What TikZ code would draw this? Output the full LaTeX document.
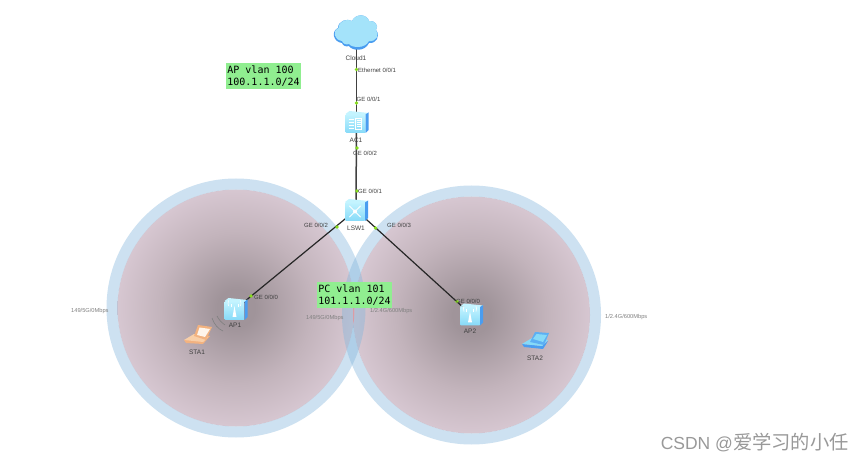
\documentclass[tikz,border=0pt]{standalone}
\usepackage{fontspec}
\setmainfont{Liberation Sans}
\newfontfamily\monof{DejaVu Sans Mono}
\newfontfamily\cjkf{Noto Sans CJK SC}
\usetikzlibrary{calc}
\definecolor{ringblue}{HTML}{82B6DC}
\definecolor{pinkedge}{HTML}{DDCDD8}
\definecolor{pinkmid}{HTML}{C3B4BC}
\definecolor{pinkcore}{HTML}{A0949A}
\definecolor{notegreen}{HTML}{90EE90}
\definecolor{portgreen}{HTML}{86DC1E}
\definecolor{labelgrey}{HTML}{404040}
\definecolor{devlight}{HTML}{C4F4FF}
\definecolor{devmid}{HTML}{86DAF8}
\definecolor{devside}{HTML}{4A9DF0}
\definecolor{lapA}{HTML}{F2B280}
\definecolor{lapB}{HTML}{F8CFA8}
\pgfdeclareradialshading{wlan}{\pgfpointorigin}{color(0bp)=(pinkcore); color(4bp)=(pinkcore); color(16bp)=(pinkmid); color(28bp)=(pinkedge); color(50bp)=(pinkedge)}
\tikzset{
  plab/.style={font=\fontsize{6}{7}\selectfont,text=labelgrey,inner sep=0pt},
  devlab/.style={font=\fontsize{6.5}{8}\selectfont,text=labelgrey,inner sep=0pt},
  rate/.style={font=\fontsize{5.7}{7}\selectfont,text=gray,inner sep=0pt},
  note/.style={fill=notegreen,font=\fontsize{10}{12.5}\selectfont\monof,align=left,inner xsep=1.2pt,inner ysep=2.5pt,text=black},
  dev/.style={inner sep=0pt,minimum size=20pt},
  link/.style={line width=1.2pt,draw=black!85},
  vlink/.style={line width=1.5pt,draw=black!75},
  port/.style={circle,fill=portgreen,inner sep=0pt,minimum size=3.6pt},
  ring/.style={fill=ringblue,opacity=.4,even odd rule},
}
\newcommand{\boxbody}{%
  \shade[top color=devlight,bottom color=devmid,rounded corners=1pt] (-11,-8) rectangle (9,11);
  \fill[devlight] (-11,-8)--(-7,-11)--(12,-9)--(9,-7)--cycle;
  \fill[devside] (9,-7.5)--(12,-9.5)--(12,8)--(9,11)--cycle;
}
\begin{document}
\begin{tikzpicture}[x=1pt,y=-1pt]
\useasboundingbox (0,0) rectangle (865,462);
\fill[white] (0,0) rectangle (865,462);
% WLAN coverage
\shade[shading=wlan] (236,308) circle[radius=118.5];
\shade[shading=wlan] (471.5,315) circle[radius=118.5];
\begin{scope}
\clip (236,308) circle[radius=118.5];
\fill[red!45!pinkedge,opacity=.5] (471.5,315) circle[radius=118.5];
\end{scope}
\fill[ring] (236,308) circle[radius=129.5] (236,308) circle[radius=118.5];
\fill[ring] (471.5,315) circle[radius=129.5] (471.5,315) circle[radius=118.5];
% nodes
\node[dev] (cloud) at (356.5,33) {};
\node[dev] (ac) at (356.5,122) {};
\node[dev] (lsw) at (356,210) {};
\node[dev] (ap1) at (235.5,309) {};
\node[dev] (ap2) at (471,314.5) {};
\node[dev] (sta1) at (197,336) {};
\node[dev] (sta2) at (535,341) {};
% links
\draw[vlink] (cloud.center) -- (ac.center);
\draw[vlink] (ac.center) -- (lsw.center);
\draw[link] (lsw.center) -- (ap1.center);
\draw[link] (lsw.center) -- (ap2.center);
% cloud
\fill[devside] (342,43) .. controls (333,42) and (331,31) .. (338,28) .. controls (338,21) and (347,18) .. (352,21) .. controls (356,13) and (367,14) .. (369,21) .. controls (375,20) and (379,26) .. (376,30) .. controls (381,36) and (376,44) .. (369,43) .. controls (365,52) and (352,51) .. (349,46) .. controls (346,47) and (343,46) .. (342,43) -- cycle;
\fill[devmid!75!white] (342,41) .. controls (334,40) and (332,31) .. (338.5,28) .. controls (338.5,21) and (347,18) .. (352,21) .. controls (356,13) and (367,14) .. (369,21) .. controls (375,20) and (379,26) .. (376,30) .. controls (380,35) and (376,42) .. (369,41) .. controls (365,49) and (352,48) .. (349,44) .. controls (346,45) and (343,44) .. (342,41) -- cycle;
% AC1
\begin{scope}[shift={(ac.center)}]
\boxbody
\foreach \yy in {-3,0,3,6}{\draw[white,line width=.8pt] (-8,\yy) -- (-3,\yy);}
\draw[white,line width=.5pt] (-1,-4) rectangle (5,7);
\foreach \yy in {-2,0,2,4}{\draw[white,line width=.4pt] (0,\yy) -- (4,\yy);}
\end{scope}
% LSW1
\begin{scope}[shift={(lsw.center)}]
\boxbody
\foreach \a in {45,135,225,315}{\draw[white,line width=.9pt] (-1,1.5) -- ++(\a:8);}
\fill[white] (-1,1.5) circle[radius=2];
\end{scope}
% AP1, AP2
\foreach \n in {ap1,ap2}{
\begin{scope}[shift={(\n.center)}]
\boxbody
\draw[white,line width=.6pt] (-7,-3) arc[start angle=160,end angle=200,radius=8];
\draw[white,line width=.6pt] (5,-3) arc[start angle=20,end angle=-20,radius=8];
\draw[white,line width=.6pt] (-4.5,-2) arc[start angle=160,end angle=200,radius=5];
\draw[white,line width=.6pt] (2.5,-2) arc[start angle=20,end angle=-20,radius=5];
\fill[white] (-1,-3) -- (1,8) -- (-3,8) -- cycle;
\end{scope}}
% wireless arcs
\draw[gray,line width=.6pt] (212,318) .. controls (214,324) and (218,329) .. (223,331);
\draw[gray,line width=.6pt] (217,316) .. controls (219,320) and (222,323) .. (225,325);
% STA1
\fill[lapA] (184,340) -- (186,343) -- (203,344) -- (210,336) -- (204,335) -- cycle;
\fill[lapB] (184,340) -- (203,342) -- (208,337) -- (194,334) -- cycle;
\fill[lapA] (194,336) -- (198,325) -- (212,327) -- (206,340) -- cycle;
\fill[white!92!orange] (197,335) -- (199.5,327.5) -- (210,329) -- (205,337) -- cycle;
% STA2
\fill[devside] (522,344) -- (524,347) -- (543,349) -- (548,341) -- (542,346) -- cycle;
\fill[devmid] (522,344) -- (542,346) -- (548,340) -- (532,338) -- cycle;
\fill[devside!70!devmid] (530,342) -- (535,332) -- (549,333) -- (544,345) -- cycle;
\fill[devmid] (533,339) -- (536.5,334) -- (547,335) -- (543,342) -- cycle;
% ports
\node[port] (p1) at (356.5,69.5) {};
\node[port] (p2) at (356.5,103) {};
\node[port] (p3) at (357,148) {};
\node[port] (p4) at (357,191) {};
\node[port] (p5) at (337,227) {};
\node[port] (p6) at (375.5,228) {};
\node[port] (p7) at (251,296) {};
\node[port] (p8) at (457,301.5) {};
% port labels
\node[plab,anchor=west] (l1) at (358,70) {Ethernet 0/0/1};
\node[plab,anchor=west] (l2) at (356.5,99.5) {GE 0/0/1};
\node[plab,anchor=west] (l3) at (353,153) {GE 0/0/2};
\node[plab,anchor=west] (l4) at (358,191) {GE 0/0/1};
\node[plab,anchor=west] (l5) at (304,225.5) {GE 0/0/2};
\node[plab,anchor=west] (l6) at (387,225) {GE 0/0/3};
\node[plab,anchor=west] (l7) at (254,297) {GE 0/0/0};
\node[plab,anchor=west] (l8) at (456,301.5) {GE 0/0/0};
% device labels
\node[devlab] (t1) at (356,58.5) {Cloud1};
\node[devlab] (t2) at (356,140) {AC1};
\node[devlab] (t3) at (356,228.5) {LSW1};
\node[devlab] (t4) at (235,325) {AP1};
\node[devlab] (t5) at (470,331.5) {AP2};
\node[devlab] (t6) at (197,352) {STA1};
\node[devlab] (t7) at (535,358) {STA2};
% rates
\node[rate,anchor=west] (r1) at (71,311) {149/5G/0Mbps};
\node[rate,anchor=west] (r2) at (306,318) {149/5G/0Mbps};
\node[rate,anchor=west] (r3) at (370,311.5) {1/2.4G/600Mbps};
\node[rate,anchor=west] (r4) at (605,317.5) {1/2.4G/600Mbps};
% notes
\node[note,anchor=north west] (n1) at (226,63) {AP vlan 100\\100.1.1.0/24};
\node[note,anchor=north west] (n2) at (317,282) {PC vlan 101\\101.1.1.0/24};
% watermark
\node[inner sep=0pt,anchor=east,text=black!40,font=\fontsize{17.5}{20}\selectfont] (wm) at (849,443) {CSDN @{\cjkf\fontsize{19.3}{20}\selectfont 爱学习的小任}};
\end{tikzpicture}
\end{document}
